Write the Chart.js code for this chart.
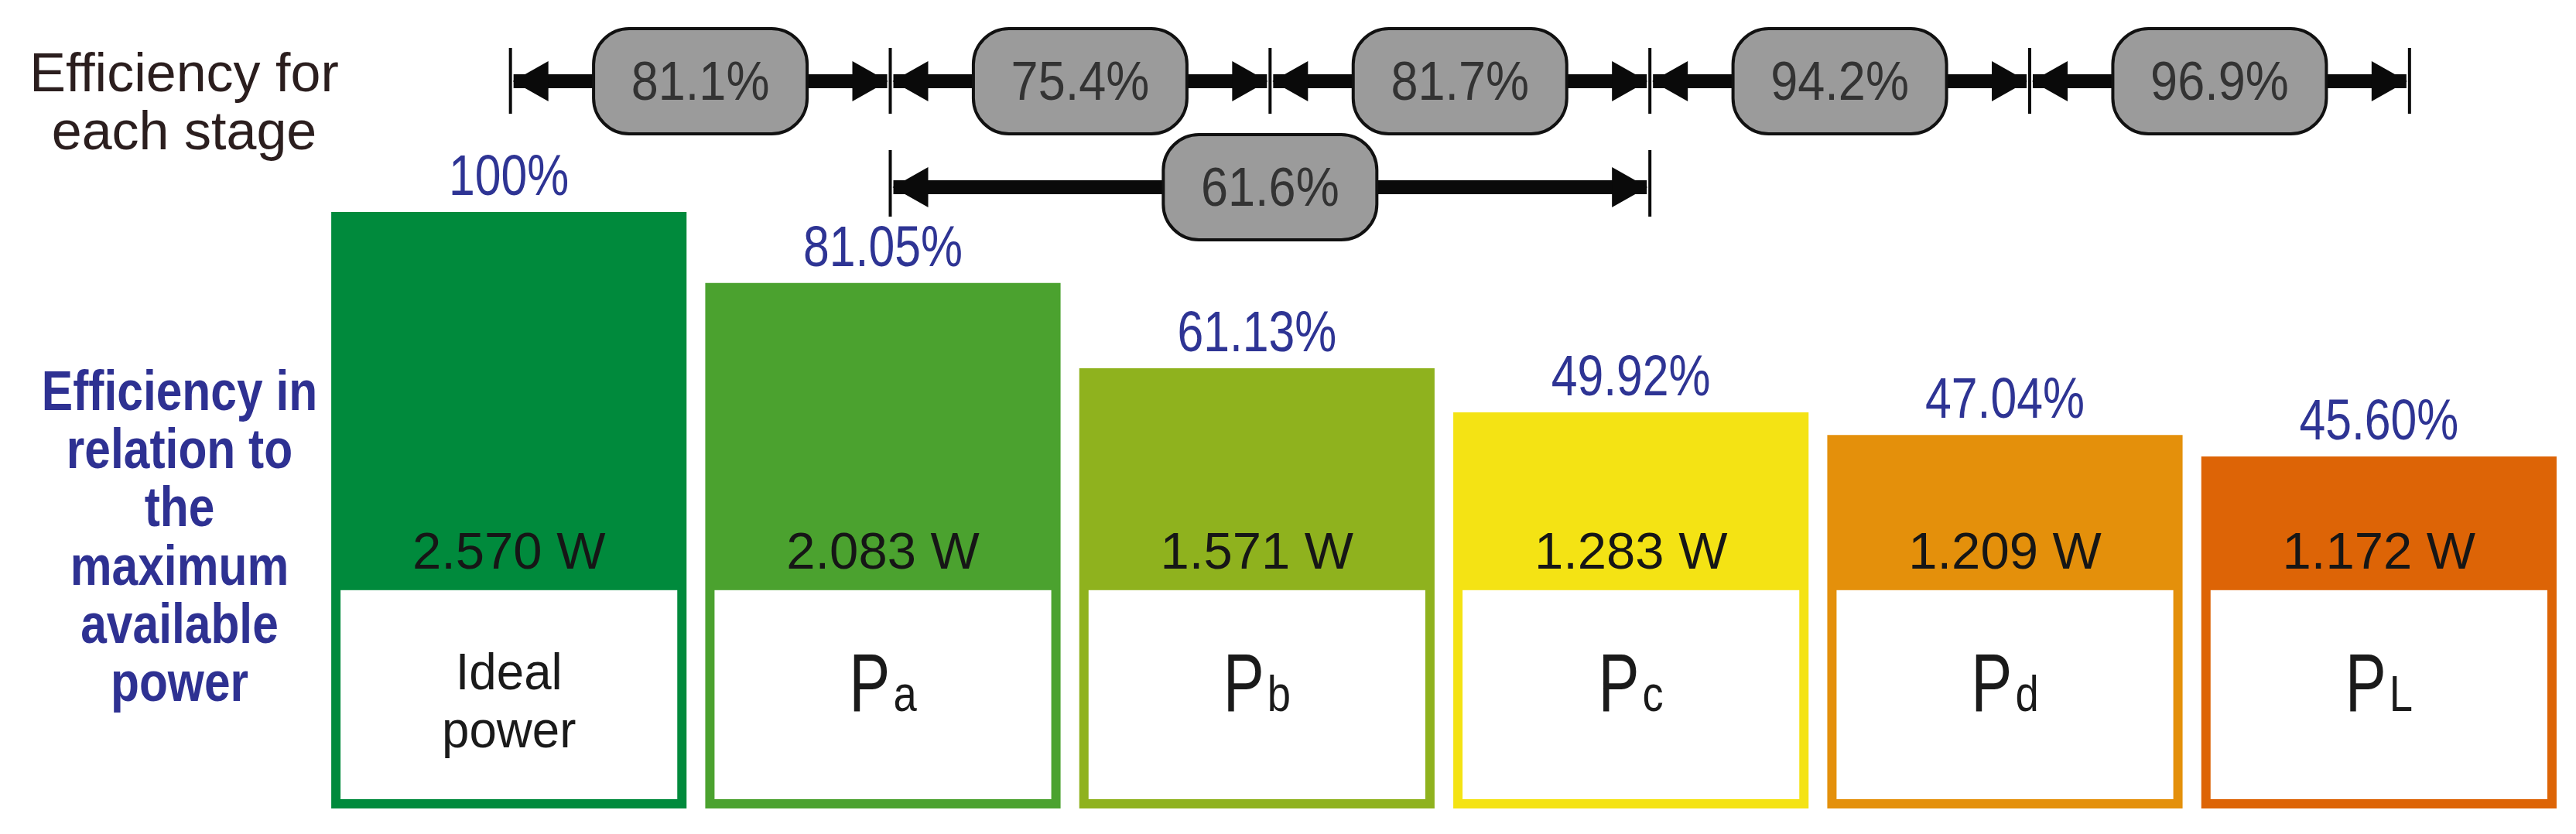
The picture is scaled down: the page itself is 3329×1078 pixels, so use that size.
<!DOCTYPE html>
<html>
<head>
<meta charset="utf-8">
<script src="https://cdn.jsdelivr.net/npm/chart.js@4.4.1/dist/chart.umd.min.js"></script>
<style>
  html, body { margin: 0; padding: 0; background: #fff; }
  #wrap { width: 3329px; height: 1078px; }
</style>
</head>
<body>
<div id="wrap"><canvas id="myChart"></canvas></div>
<script>
// power at each point of the chain
const stage_labels = ['Ideal power', 'Pa', 'Pb', 'Pc', 'Pd', 'PL'];
const power_watts = [2.570, 2.083, 1.571, 1.283, 1.209, 1.172];
const relative_eff = [100, 81.05, 61.13, 49.92, 47.04, 45.60];
// bar heights as drawn (the picture is not to scale), ideal power = 100
const bar_levels = [100, 88.1, 73.8, 66.4, 62.6, 59.0];
const bar_colors = ['#008a3c', '#4ba22f', '#8fb21e', '#f4e314', '#e4900b', '#dd6406'];

// efficiency of each stage, between neighbouring points
const stage_eff = [81.1, 75.4, 81.7, 94.2, 96.9];
// combined stage from Pa to Pc
const combined_span = [1, 3];
const combined_eff = 61.6;

const FONT = '"Liberation Sans", Arial, sans-serif';

function squeezeText(ctx, text, x, y, sx) {
    ctx.save();
    ctx.translate(x, y);
    ctx.scale(sx, 1);
    ctx.fillText(text, 0, 0);
    ctx.restore();
}

function pctText(v) {
    return (v === 100 ? '100' : v.toFixed(2)) + '%';
}

function drawPill(ctx, cx, cy, text) {
    const w = 276, h = 136, r = 46;
    ctx.save();
    ctx.beginPath();
    ctx.roundRect(cx - w / 2, cy - h / 2, w, h, r);
    ctx.fillStyle = '#9b9b9b';
    ctx.fill();
    ctx.lineWidth = 4;
    ctx.strokeStyle = '#111';
    ctx.stroke();
    ctx.fillStyle = '#333';
    ctx.font = '70px ' + FONT;
    ctx.textAlign = 'center';
    ctx.textBaseline = 'alphabetic';
    squeezeText(ctx, text, cx, cy + 24, 0.9);
    ctx.restore();
}

function drawArrow(ctx, x1, x2, cy, text) {
    const shaft = 18, headLen = 46, headHalf = 26;
    ctx.save();
    ctx.fillStyle = '#0a0a0a';
    ctx.fillRect(x1 + 4, cy - shaft / 2, x2 - x1 - 8, shaft);
    ctx.beginPath();
    ctx.moveTo(x1 + 3, cy);
    ctx.lineTo(x1 + 3 + headLen, cy - headHalf);
    ctx.lineTo(x1 + 3 + headLen, cy + headHalf);
    ctx.closePath();
    ctx.moveTo(x2 - 3, cy);
    ctx.lineTo(x2 - 3 - headLen, cy - headHalf);
    ctx.lineTo(x2 - 3 - headLen, cy + headHalf);
    ctx.closePath();
    ctx.fill();
    ctx.restore();
    drawPill(ctx, (x1 + x2) / 2, cy, text);
}

function drawTick(ctx, x, y1, y2) {
    ctx.save();
    ctx.strokeStyle = '#0a0a0a';
    ctx.lineWidth = 4;
    ctx.beginPath();
    ctx.moveTo(x, y1);
    ctx.lineTo(x, y2);
    ctx.stroke();
    ctx.restore();
}

const diagramPlugin = {
    id: 'diagram',
    afterDatasetsDraw(chart) {
        const ctx = chart.ctx;
        const area = chart.chartArea;
        const xs = chart.scales.x;
        const bars = chart.getDatasetMeta(0).data;
        const boxH = area.height * 0.366;

        ctx.save();
        ctx.textAlign = 'center';
        ctx.textBaseline = 'alphabetic';

        bars.forEach((bar, i) => {
            const left = bar.x - bar.width / 2;
            const boxTop = bar.base - boxH;
            // white label box inside the bar
            ctx.fillStyle = '#fff';
            ctx.fillRect(left + 12, boxTop, bar.width - 24, boxH - 12);

            // power in watts
            ctx.fillStyle = '#161616';
            ctx.font = '67px ' + FONT;
            squeezeText(ctx, power_watts[i].toFixed(3) + ' W', bar.x, boxTop - 28, 1.0);

            // efficiency vs maximum
            ctx.fillStyle = '#2e3494';
            ctx.font = '74px ' + FONT;
            squeezeText(ctx, pctText(relative_eff[i]), bar.x, bar.y - 22, 0.82);

            // name in the box
            const name = stage_labels[i];
            ctx.fillStyle = '#1a1a1a';
            if (name.indexOf(' ') > 0) {
                const parts = name.split(' ');
                ctx.font = '67px ' + FONT;
                squeezeText(ctx, parts[0], bar.x, boxTop + 128, 0.95);
                squeezeText(ctx, parts[1], bar.x, boxTop + 203, 0.95);
            } else {
                const big = '106px ' + FONT, small = '64px ' + FONT;
                const sxBig = 0.75, sxSmall = 0.85;
                ctx.font = big;
                const wBig = ctx.measureText(name[0]).width * sxBig;
                ctx.font = small;
                const wSmall = ctx.measureText(name.slice(1)).width * sxSmall;
                const start = bar.x - (wBig + wSmall + 4) / 2;
                ctx.textAlign = 'left';
                ctx.font = big;
                squeezeText(ctx, name[0], start, boxTop + 156, sxBig);
                ctx.font = small;
                squeezeText(ctx, name.slice(1), start + wBig + 4, boxTop + 156, sxSmall);
                ctx.textAlign = 'center';
            }
        });

        // stage arrows
        const tickX = i => xs.getPixelForValue(i) + 2 + i * 7.5;
        for (let i = 0; i <= stage_eff.length; i++) drawTick(ctx, tickX(i), 62, 147);
        stage_eff.forEach((v, i) => drawArrow(ctx, tickX(i), tickX(i + 1), 105, v.toFixed(1) + '%'));
        drawTick(ctx, tickX(combined_span[0]), 194, 280);
        drawTick(ctx, tickX(combined_span[1]), 194, 280);
        drawArrow(ctx, tickX(combined_span[0]), tickX(combined_span[1]), 242, combined_eff.toFixed(1) + '%');

        // row titles
        ctx.fillStyle = '#2b1e1e';
        ctx.font = '70px ' + FONT;
        squeezeText(ctx, 'Efficiency for', 238, 118, 1.0);
        squeezeText(ctx, 'each stage', 238, 193, 1.0);

        ctx.fillStyle = '#2e3192';
        ctx.font = 'bold 72px ' + FONT;
        const leftLines = ['Efficiency in', 'relation to', 'the', 'maximum', 'available', 'power'];
        leftLines.forEach((t, k) => squeezeText(ctx, t, 232, 530 + k * 75.2, 0.84));

        ctx.restore();
    }
};

new Chart('myChart', {
    type: 'bar',
    data: {
        labels: stage_labels,
        datasets: [{
            data: bar_levels,
            backgroundColor: bar_colors,
            borderWidth: 0,
            barPercentage: 0.95,
            categoryPercentage: 1.0
        }]
    },
    options: {
        responsive: true,
        maintainAspectRatio: false,
        animation: false,
        devicePixelRatio: 1,
        layout: { padding: { left: 416, right: 13, top: 274, bottom: 33 } },
        scales: {
            x: { display: false },
            y: { display: false, min: 0, max: 100 }
        },
        plugins: {
            legend: { display: false },
            tooltip: { enabled: false }
        }
    },
    plugins: [diagramPlugin]
});
</script>
</body>
</html>
